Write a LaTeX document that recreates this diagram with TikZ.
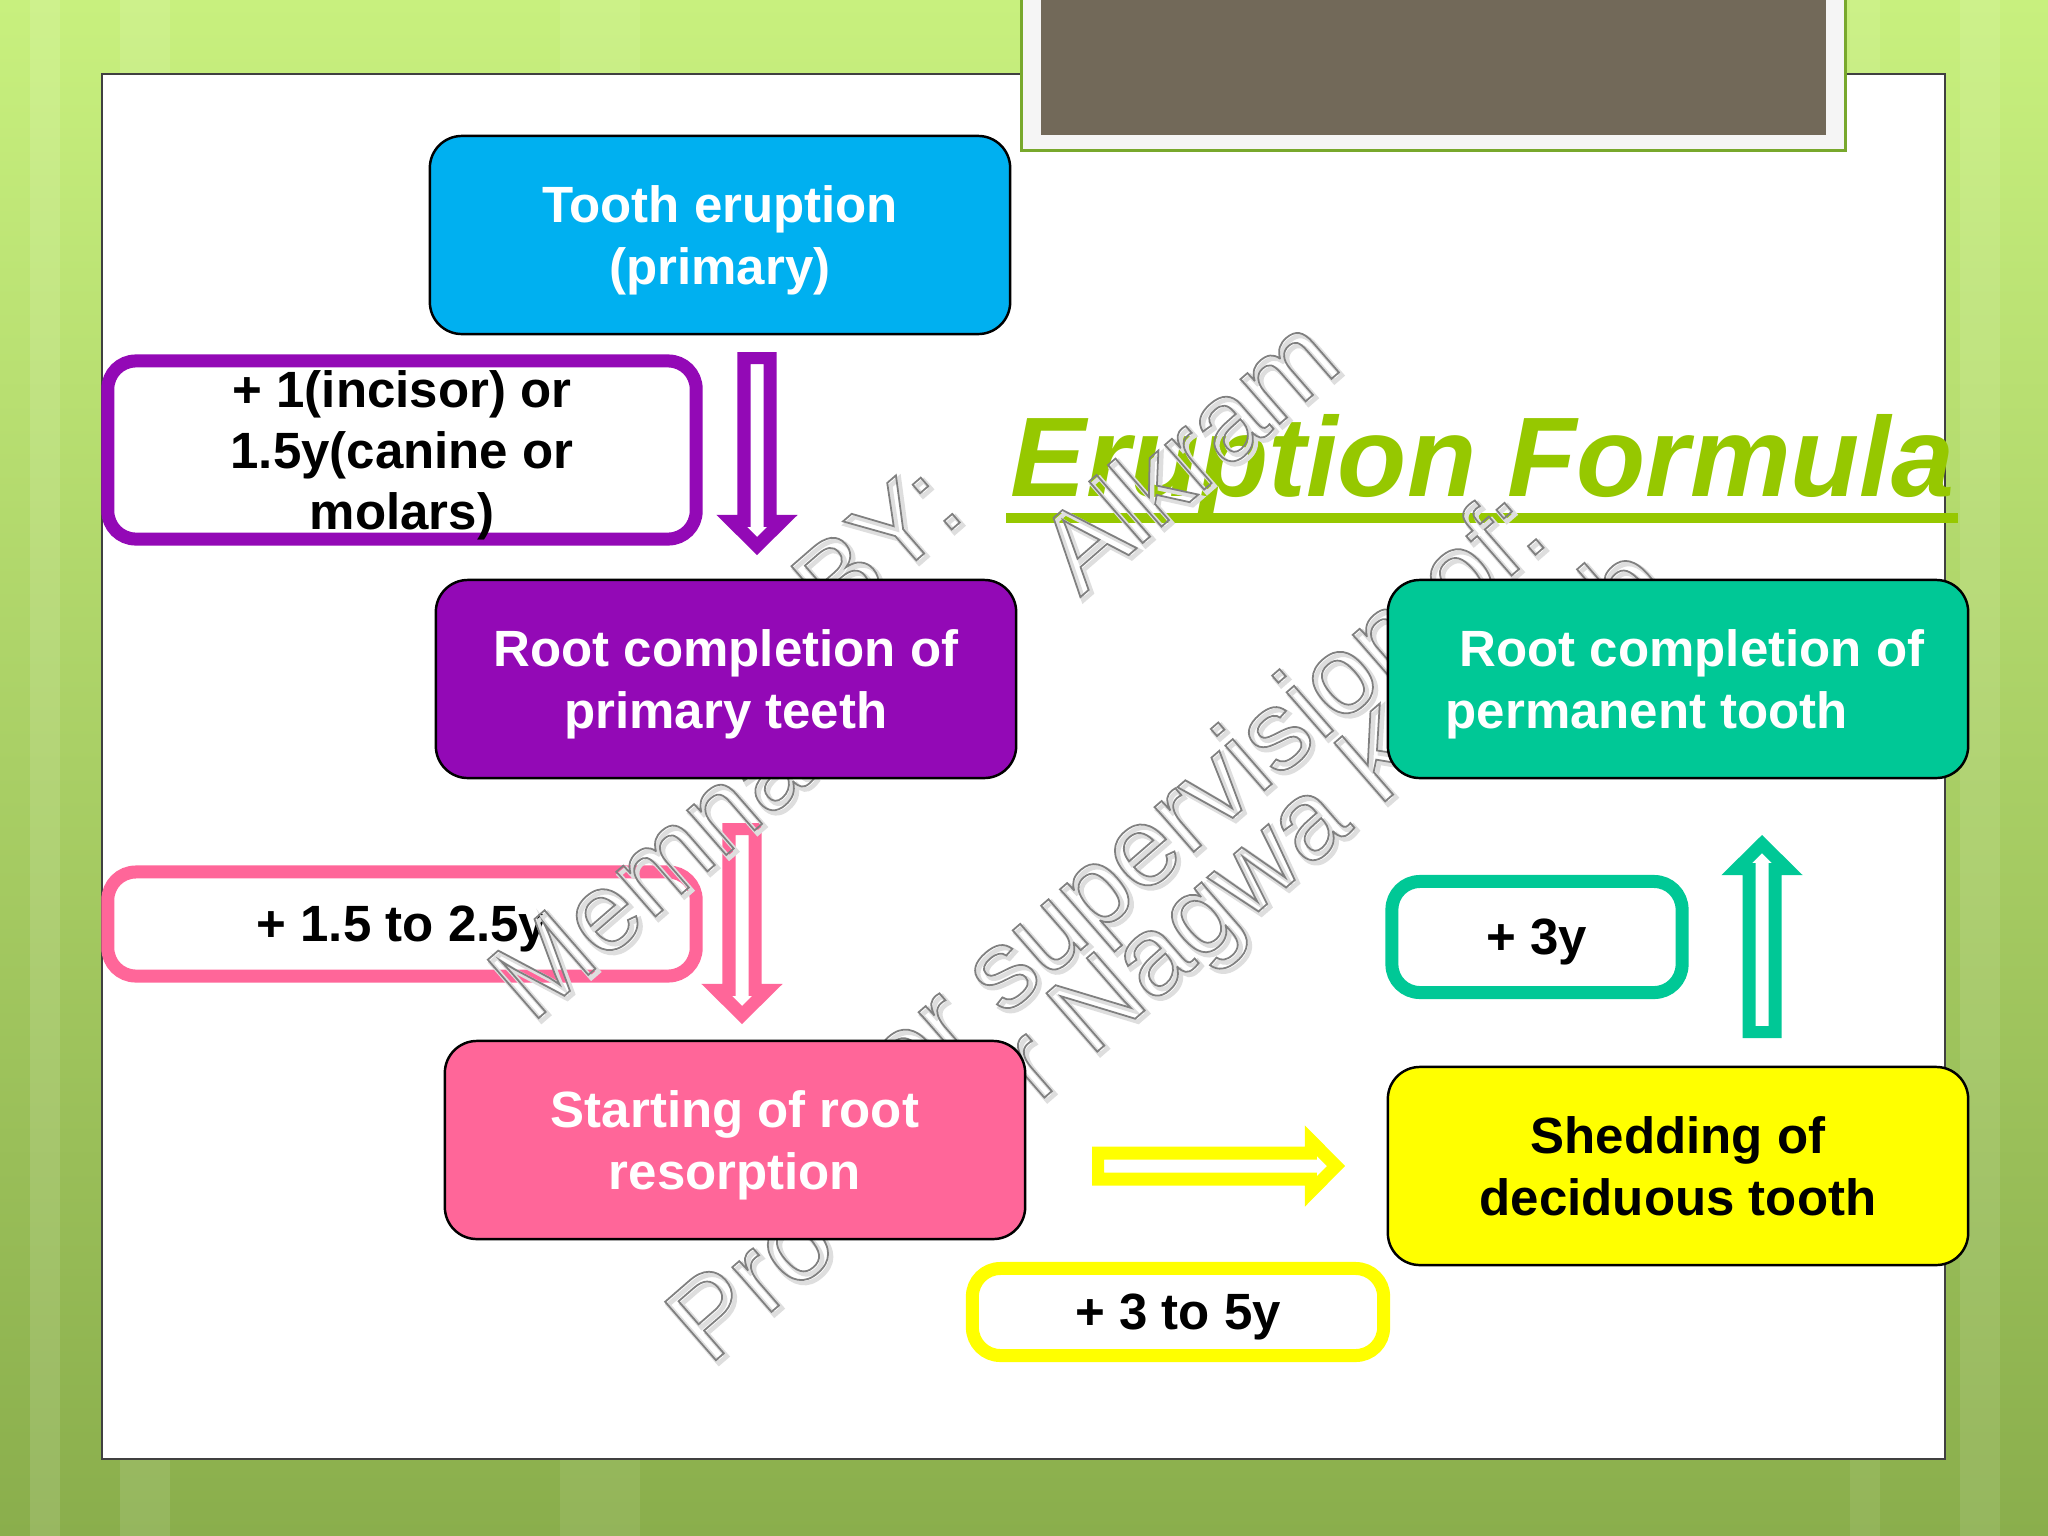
\documentclass[tikz,border=0pt]{standalone}
\usepackage{fontspec}
\setmainfont{Liberation Sans}
\usepackage{tikz}
\usetikzlibrary{calc,positioning}

\definecolor{eblue}{HTML}{00B0F0}
\definecolor{epurple}{HTML}{9309B6}
\definecolor{epink}{HTML}{FF6699}
\definecolor{egreen}{HTML}{00C896}
\definecolor{eyellow}{HTML}{FFFF00}
\definecolor{etitle}{HTML}{96C800}
\definecolor{bgtop}{HTML}{C8F07E}
\definecolor{bgmid}{HTML}{9ACB4E}
\definecolor{bgbot}{HTML}{8AAE4C}
\definecolor{photogray}{HTML}{726959}
\definecolor{framegreen}{HTML}{78A82C}

% outlined watermark letters (stroke only)
\newcommand{\wmline}[1]{\special{pdf:literal direct 1 Tr 0.5 w 0.5 0.5 0.5 RG}#1\special{pdf:literal direct 0 Tr}}
\newcommand{\wmshadow}[1]{\special{pdf:literal direct 1 Tr 1.3 w 0.87 0.87 0.87 RG}#1\special{pdf:literal direct 0 Tr}}
\newcommand{\wmark}[3]{%
  \node[wm] at ($(#2)+(3,3)$) {\wmshadow{#3}};
  \node[wm] (#1) at (#2) {\wmline{#3}};}

\tikzset{
  mainbox/.style={rectangle, rounded corners=0.32cm, draw=black, line width=0.7pt, fill=#1,
    minimum width=5.8cm, minimum height=1.98cm, align=center, text=white, text depth=0pt,
    font=\fontsize{14.5}{17.4}\selectfont\bfseries},
  labelbox/.style={rectangle, rounded corners=0.28cm, draw=#1, line width=0.13cm, fill=white,
    inner sep=1pt, align=center, text depth=0pt, font=\fontsize{14.5}{17.4}\selectfont\bfseries},
  wm/.style={rotate=41, inner sep=0pt, font=\fontsize{32}{37}\selectfont},
  blockarrow/.style={fill=#1, even odd rule, to path={
    ($(\tikztostart)!0.195cm!90:(\tikztotarget)$)
    -- ($(\tikztotarget)!0.40cm!(\tikztostart)!0.195cm!90:(\tikztotarget)$)
    -- ($(\tikztotarget)!0.40cm!(\tikztostart)!0.405cm!90:(\tikztotarget)$)
    -- (\tikztotarget)
    -- ($(\tikztotarget)!0.40cm!(\tikztostart)!0.405cm!-90:(\tikztotarget)$)
    -- ($(\tikztotarget)!0.40cm!(\tikztostart)!0.195cm!-90:(\tikztotarget)$)
    -- ($(\tikztostart)!0.195cm!-90:(\tikztotarget)$) -- cycle
    ($(\tikztostart)!0.12cm!(\tikztotarget)!0.065cm!90:(\tikztotarget)$)
    -- ($(\tikztotarget)!0.28cm!(\tikztostart)!0.065cm!90:(\tikztotarget)$)
    -- ($(\tikztotarget)!0.28cm!(\tikztostart)!0.10cm!90:(\tikztotarget)$)
    -- ($(\tikztotarget)!0.18cm!(\tikztostart)$)
    -- ($(\tikztotarget)!0.28cm!(\tikztostart)!0.10cm!-90:(\tikztotarget)$)
    -- ($(\tikztotarget)!0.28cm!(\tikztostart)!0.065cm!-90:(\tikztotarget)$)
    -- ($(\tikztostart)!0.12cm!(\tikztotarget)!0.065cm!-90:(\tikztotarget)$) -- cycle}}
}

\begin{document}
\begin{tikzpicture}[x=0.01cm, y=-0.01cm]
    \useasboundingbox (0,0) rectangle (2048,1536);

    % slide background
    \shade[top color=bgtop, middle color=bgmid, bottom color=bgbot] (0,0) rectangle (2048,1536);
    \fill[white, opacity=0.12] (30,0) rectangle (60,1536);
    \fill[white, opacity=0.10] (120,0) rectangle (170,1536);
    \fill[white, opacity=0.08] (560,0) rectangle (640,1536);
    \fill[white, opacity=0.10] (1960,0) rectangle (2000,1536);
    \fill[white, opacity=0.08] (1850,0) rectangle (1880,1536);
    \draw[fill=white, draw=black!75, line width=0.6pt] (102,74) rectangle (1945,1459);

    % photo frame at the top
    \fill[black!4] (1021,-5) rectangle (1845,150);
    \draw[framegreen, line width=0.03cm] (1021,0) -- (1021,150) -- (1845,150) -- (1845,0);
    \fill[photogray] (1041,0) rectangle (1826,135);

    % time labels
    \node[labelbox=epurple, minimum width=5.88cm, minimum height=1.78cm] (lprim) at (402,450) {+ 1(incisor) or\\1.5y(canine or\\molars)};
    \node[labelbox=epink, minimum width=5.88cm, minimum height=1.04cm] (lresorb) at (402,924) {+ 1.5 to 2.5y};
    \node[labelbox=egreen, minimum width=2.9cm, minimum height=1.11cm] (lperm) at (1537,937) {+ 3y};
    \node[labelbox=eyellow, minimum width=4.11cm, minimum height=0.87cm] (lshed) at (1178,1312) {+ 3 to 5y};

    % block arrows
    \coordinate (pa1) at (757,352);
    \coordinate (pa2) at (757,555);
    \coordinate (ka1) at (742,823);
    \coordinate (ka2) at (742,1024);
    \coordinate (ya1) at (1092,1166);
    \coordinate (ya2) at (1345,1166);
    \coordinate (ga1) at (1762,1038);
    \coordinate (ga2) at (1762,835);
    \fill[blockarrow=epurple] (pa1) to (pa2);
    \fill[blockarrow=epink] (ka1) to (ka2);
    \fill[blockarrow=eyellow] (ya1) to (ya2);
    \fill[blockarrow=egreen] (ga1) to (ga2);

    % title
    \node[anchor=base west, inner sep=0pt, text=etitle, font=\fontsize{32.2}{36}\selectfont\bfseries\itshape] (title) at (1010,496) {Eruption Formula};
    \draw[etitle, line width=0.1cm] ($(title.base west)+(-4,22)$) -- ($(title.base east)+(3,22)$);

    % watermark
    \wmark{wby}{876,544}{BY:}
    \wmark{wmem}{660,862}{Memnat}
    \wmark{walk}{1186,452}{Alkram}
    \wmark{wpro}{750,1280}{Pro}
    \wmark{wsup}{1209,800}{er supervision of:}
    \wmark{wnag}{1219,910}{r Nagwa K}
    \wmark{wb}{1622,585}{b}

    % stages
    \node[mainbox=eblue] (erupt) at (720,235) {Tooth eruption\\(primary)};
    \node[mainbox=epurple] (rootprim) at (726,679) {Root completion of\\primary teeth};
    \node[mainbox=epink] (resorb) at (735,1140) {Starting of root\\resorption};
    \node[mainbox=egreen, align=left] (rootperm) at (1678,679) {\hspace*{0.28cm}Root completion of\\\hspace*{0.14cm}permanent tooth};
    \node[mainbox=eyellow, text=black] (shed) at (1678,1166) {Shedding of\\deciduous tooth};
\end{tikzpicture}
\end{document}
